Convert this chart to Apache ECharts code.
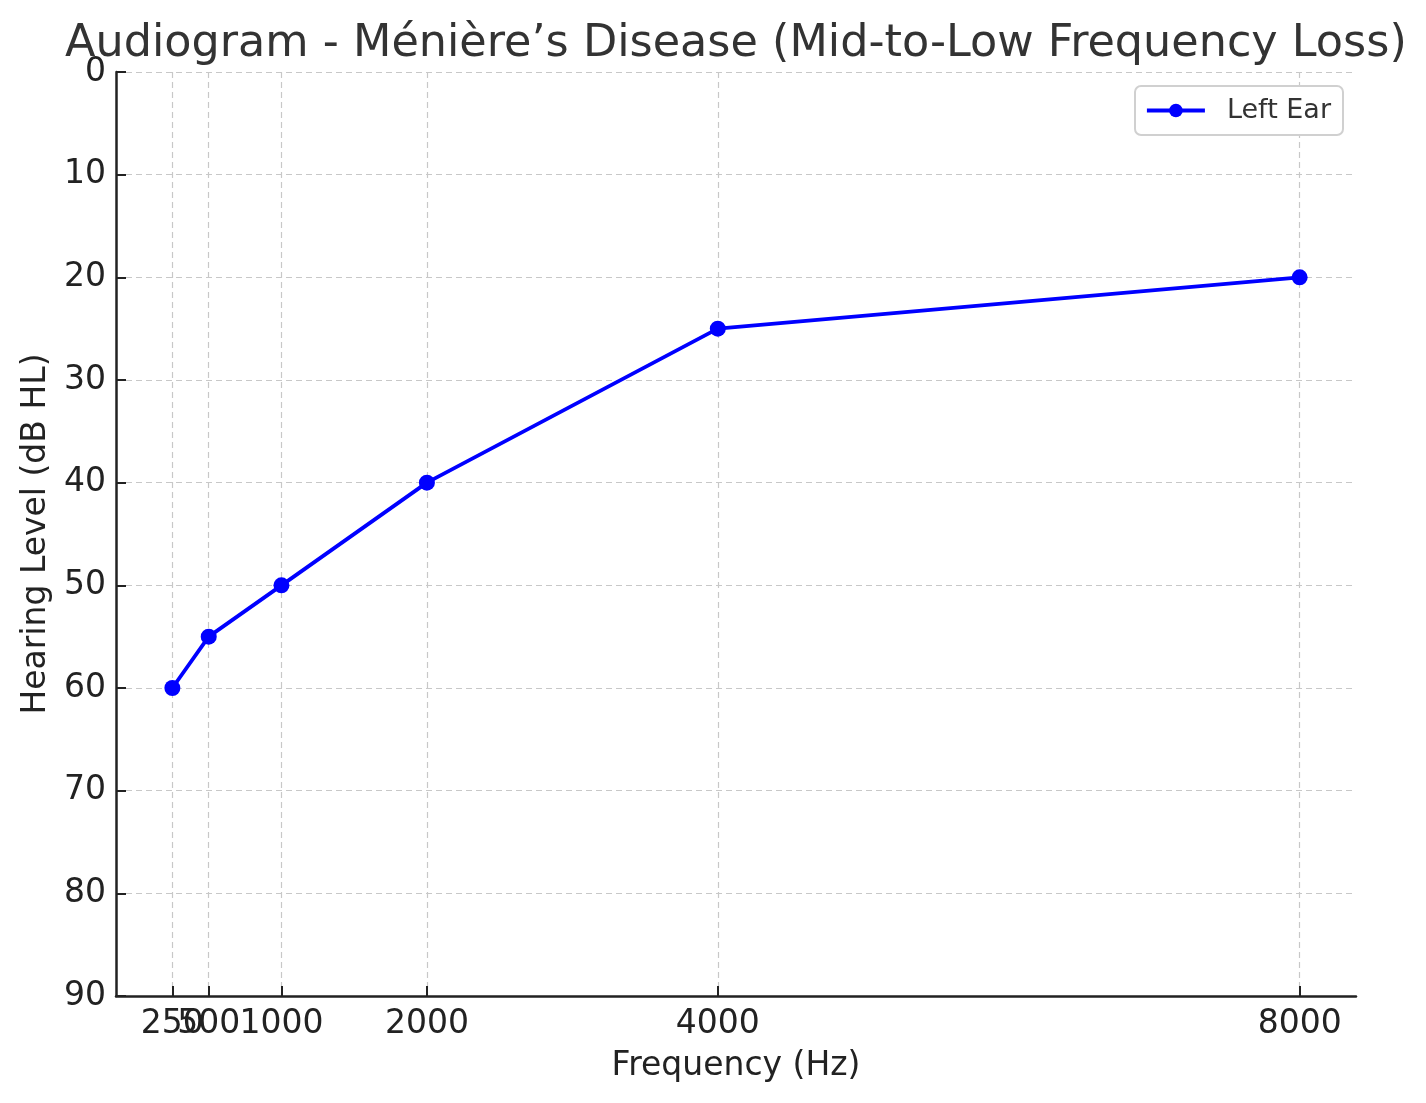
<!DOCTYPE html>
<html>
<head>
<meta charset="utf-8">
<script src="https://cdn.jsdelivr.net/npm/echarts@6/dist/echarts.min.js"></script>
<style>
  html, body { margin: 0; padding: 0; background: #fff; }
  #chart { width: 1426px; height: 1103px; }
</style>
</head>
<body>
<div id="chart"></div>
<script>
// audiogram values, left ear only
const freqs = [250, 500, 1000, 2000, 4000, 8000];
const leftEar = [60, 55, 50, 40, 25, 20];
const xTicks = [250, 500, 1000, 2000, 4000, 8000];
const yTicks = [0, 10, 20, 30, 40, 50, 60, 70, 80, 90];

const font = 'DejaVu Sans';
const chart = echarts.init(document.getElementById('chart'), null, { renderer: 'canvas' });

// matplotlib-style 5% margin around the frequency range
const span = freqs[freqs.length - 1] - freqs[0];
const xMin = freqs[0] - span * 0.05;
const xMax = freqs[freqs.length - 1] + span * 0.05;

// 250/500/1000 labels collide, echarts drops one of them, so alternate
// tick labels go on two overlaid axes
const xTicksA = xTicks.filter((v, i) => i % 2 === 0);
const xTicksB = xTicks.filter((v, i) => i % 2 === 1);

const labelStyle = { fontFamily: font, fontSize: 33, color: '#222', margin: 12,
  hideOverlap: false, showMinLabel: true, showMaxLabel: true, formatter: v => String(v) };

const option = {
  backgroundColor: '#fff',
  animation: false,
  title: {
    text: 'Audiogram - Ménière’s Disease (Mid-to-Low Frequency Loss)',
    left: 65,
    top: 22,
    padding: 0,
    textStyle: { fontFamily: font, fontSize: 44.5, fontWeight: 'normal', color: '#333' }
  },
  legend: {
    right: 83,
    top: 86,
    padding: [11, 12, 11, 10],
    borderColor: '#d0d0d0',
    borderWidth: 2,
    borderRadius: 6,
    backgroundColor: '#fff',
    itemWidth: 58,
    itemHeight: 17,
    lineStyle: { width: 3.8 },
    textStyle: { fontFamily: font, fontSize: 27, color: '#333', padding: [0, 0, 0, 17] },
    data: ['Left Ear']
  },
  grid: { left: 116, right: 70, top: 72, bottom: 107, containLabel: false },
  xAxis: [{
    type: 'value',
    min: xMin,
    max: xMax,
    name: 'Frequency (Hz)',
    nameLocation: 'middle',
    nameGap: 54,
    nameTextStyle: { fontFamily: font, fontSize: 33, color: '#222' },
    axisLine: { show: true, onZero: false, lineStyle: { color: '#222', width: 2.5 } },
    axisTick: { show: true, inside: true, length: 10, customValues: xTicks, lineStyle: { color: '#222', width: 2 } },
    axisLabel: Object.assign({ customValues: xTicksA }, labelStyle),
    splitLine: { show: true, lineStyle: { color: '#c8c8c8', type: [6, 4], width: 1.2 } }
  }, {
    type: 'value',
    position: 'bottom',
    min: xMin,
    max: xMax,
    axisLine: { show: false, onZero: false },
    axisTick: { show: false, customValues: xTicksB },
    axisLabel: Object.assign({ customValues: xTicksB }, labelStyle),
    splitLine: { show: false }
  }],
  yAxis: {
    type: 'value',
    inverse: true,
    min: 0,
    max: 90,
    interval: 10,
    name: 'Hearing Level (dB HL)',
    nameLocation: 'middle',
    nameGap: 62,
    nameTextStyle: { fontFamily: font, fontSize: 33, color: '#222' },
    axisLine: { show: true, onZero: false, lineStyle: { color: '#222', width: 2.5 } },
    axisTick: { show: true, inside: true, length: 10, lineStyle: { color: '#222', width: 2 } },
    axisLabel: { fontFamily: font, fontSize: 33, color: '#222', margin: 10,
      formatter: v => yTicks.includes(v) ? String(v) : '' },
    splitLine: { show: true, lineStyle: { color: '#c8c8c8', type: [6, 4], width: 1.2 } }
  },
  series: [{
    name: 'Left Ear',
    type: 'line',
    xAxisIndex: 0,
    data: freqs.map((f, i) => [f, leftEar[i]]),
    symbol: 'circle',
    symbolSize: 16,
    showAllSymbol: true,
    itemStyle: { color: '#0000ff' },
    lineStyle: { color: '#0000ff', width: 3.8 },
    emphasis: { disabled: true }
  }]
};

chart.setOption(option);
</script>
</body>
</html>
